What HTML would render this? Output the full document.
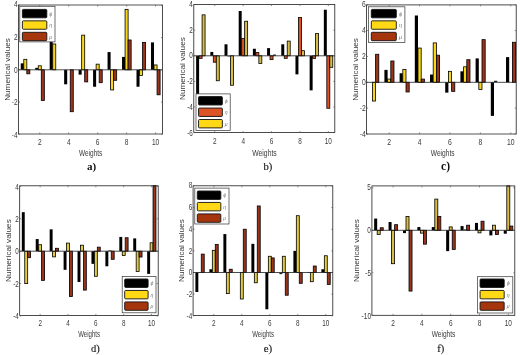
<!DOCTYPE html>
<html><head><meta charset="utf-8"><title>Figure</title>
<style>
html,body{margin:0;padding:0;background:#fff;}
svg{display:block;font-family:"Liberation Sans",sans-serif;}
</style></head><body>
<svg width="520" height="355" viewBox="0 0 520 355">
<defs><filter id="soft" x="0" y="0" width="520" height="355" filterUnits="userSpaceOnUse"><feGaussianBlur stdDeviation="0.45"/></filter></defs>
<rect width="520" height="355" fill="#fff"/>
<g filter="url(#soft)">
<g><rect x="20.74" y="63.35" width="3.04" height="6.45" fill="#000000"/>
<rect x="23.78" y="59.32" width="3.04" height="10.48" fill="#F7D61C" stroke="#000" stroke-width="0.8"/>
<rect x="26.82" y="69.80" width="3.04" height="4.03" fill="#98341A" stroke="#000" stroke-width="0.8"/>
<rect x="35.21" y="67.87" width="3.04" height="1.93" fill="#000000"/>
<rect x="38.25" y="65.77" width="3.04" height="4.03" fill="#F7D61C" stroke="#000" stroke-width="0.8"/>
<rect x="41.29" y="69.80" width="3.04" height="30.63" fill="#98341A" stroke="#000" stroke-width="0.8"/>
<rect x="49.68" y="34.34" width="3.04" height="35.46" fill="#000000"/>
<rect x="52.72" y="44.01" width="3.04" height="25.79" fill="#F7D61C" stroke="#000" stroke-width="0.8"/>
<rect x="64.15" y="69.80" width="3.04" height="14.51" fill="#000000"/>
<rect x="70.23" y="69.80" width="3.04" height="41.91" fill="#98341A" stroke="#000" stroke-width="0.8"/>
<rect x="78.62" y="69.80" width="3.04" height="4.84" fill="#000000"/>
<rect x="81.66" y="35.14" width="3.04" height="34.66" fill="#F7D61C" stroke="#000" stroke-width="0.8"/>
<rect x="84.70" y="69.80" width="3.04" height="12.09" fill="#98341A" stroke="#000" stroke-width="0.8"/>
<rect x="93.09" y="69.80" width="3.04" height="16.93" fill="#000000"/>
<rect x="96.13" y="64.16" width="3.04" height="5.64" fill="#F7D61C" stroke="#000" stroke-width="0.8"/>
<rect x="99.17" y="69.80" width="3.04" height="12.90" fill="#98341A" stroke="#000" stroke-width="0.8"/>
<rect x="107.56" y="52.07" width="3.04" height="17.73" fill="#000000"/>
<rect x="110.60" y="69.80" width="3.04" height="20.15" fill="#F7D61C" stroke="#000" stroke-width="0.8"/>
<rect x="113.64" y="69.80" width="3.04" height="10.48" fill="#98341A" stroke="#000" stroke-width="0.8"/>
<rect x="122.03" y="56.90" width="3.04" height="12.90" fill="#000000"/>
<rect x="125.07" y="9.35" width="3.04" height="60.45" fill="#F7D61C" stroke="#000" stroke-width="0.8"/>
<rect x="128.11" y="39.98" width="3.04" height="29.82" fill="#98341A" stroke="#000" stroke-width="0.8"/>
<rect x="136.50" y="69.80" width="3.04" height="16.93" fill="#000000"/>
<rect x="139.54" y="69.80" width="3.04" height="5.64" fill="#F7D61C" stroke="#000" stroke-width="0.8"/>
<rect x="142.58" y="42.40" width="3.04" height="27.40" fill="#98341A" stroke="#000" stroke-width="0.8"/>
<rect x="150.97" y="42.40" width="3.04" height="27.40" fill="#000000"/>
<rect x="154.01" y="64.96" width="3.04" height="4.84" fill="#F7D61C" stroke="#000" stroke-width="0.8"/>
<rect x="157.05" y="69.80" width="3.04" height="24.99" fill="#98341A" stroke="#000" stroke-width="0.8"/>
<line x1="18.5" y1="69.8" x2="162.5" y2="69.8" stroke="#222" stroke-width="0.8"/>
<rect x="18.5" y="5.0" width="144.00" height="129.00" fill="none" stroke="#151515" stroke-width="0.75"/>
<path d="M39.77 134.0v-1.5M39.77 5.0v1.5" stroke="#444" stroke-width="0.6"/>
<text transform="translate(39.77,144.60) scale(0.8,1)" text-anchor="middle" font-size="8.2" fill="#3a3a3a" >2</text>
<path d="M68.71 134.0v-1.5M68.71 5.0v1.5" stroke="#444" stroke-width="0.6"/>
<text transform="translate(68.71,144.60) scale(0.8,1)" text-anchor="middle" font-size="8.2" fill="#3a3a3a" >4</text>
<path d="M97.65 134.0v-1.5M97.65 5.0v1.5" stroke="#444" stroke-width="0.6"/>
<text transform="translate(97.65,144.60) scale(0.8,1)" text-anchor="middle" font-size="8.2" fill="#3a3a3a" >6</text>
<path d="M126.59 134.0v-1.5M126.59 5.0v1.5" stroke="#444" stroke-width="0.6"/>
<text transform="translate(126.59,144.60) scale(0.8,1)" text-anchor="middle" font-size="8.2" fill="#3a3a3a" >8</text>
<path d="M155.53 134.0v-1.5M155.53 5.0v1.5" stroke="#444" stroke-width="0.6"/>
<text transform="translate(155.53,144.60) scale(0.8,1)" text-anchor="middle" font-size="8.2" fill="#3a3a3a" >10</text>
<path d="M18.5 5.32h1.5M162.5 5.32h-1.5" stroke="#444" stroke-width="0.6"/>
<text transform="translate(17.60,7.37) scale(0.8,1)" text-anchor="end" font-size="8.2" fill="#3a3a3a" >4</text>
<path d="M18.5 37.56h1.5M162.5 37.56h-1.5" stroke="#444" stroke-width="0.6"/>
<text transform="translate(17.60,39.96) scale(0.8,1)" text-anchor="end" font-size="8.2" fill="#3a3a3a" >2</text>
<path d="M18.5 69.80h1.5M162.5 69.80h-1.5" stroke="#444" stroke-width="0.6"/>
<text transform="translate(17.60,72.55) scale(0.8,1)" text-anchor="end" font-size="8.2" fill="#3a3a3a" >0</text>
<path d="M18.5 102.04h1.5M162.5 102.04h-1.5" stroke="#444" stroke-width="0.6"/>
<text transform="translate(17.60,105.14) scale(0.8,1)" text-anchor="end" font-size="8.2" fill="#3a3a3a" >-2</text>
<path d="M18.5 134.28h1.5M162.5 134.28h-1.5" stroke="#444" stroke-width="0.6"/>
<text transform="translate(17.60,137.73) scale(0.8,1)" text-anchor="end" font-size="8.2" fill="#3a3a3a" >-4</text>
<text x="90.70" y="155.60" text-anchor="middle" font-size="8.2" fill="#3a3a3a" textLength="23.3" lengthAdjust="spacingAndGlyphs">Weights</text>
<text transform="translate(9.50,69.50) rotate(-90) scale(1,0.8)" text-anchor="middle" font-size="8.2" fill="#3a3a3a" >Numerical values</text>
<rect x="19.8" y="6.3" width="35.20" height="35.60" fill="#fff" stroke="#333" stroke-width="0.7"/>
<rect x="22.40" y="9.40" width="24.4" height="8.40" rx="0.9" fill="#000000" stroke="#111" stroke-width="0.9"/>
<text transform="translate(50.80,15.60) scale(0.9,1)" text-anchor="middle" font-size="5.9" fill="#777" font-style="italic">ϕ</text>
<rect x="22.40" y="20.85" width="24.4" height="8.40" rx="0.9" fill="#FFD814" stroke="#111" stroke-width="0.9"/>
<text transform="translate(50.80,27.05) scale(0.9,1)" text-anchor="middle" font-size="5.9" fill="#777" font-style="italic">η</text>
<rect x="22.40" y="32.30" width="24.4" height="8.40" rx="0.9" fill="#A5360E" stroke="#111" stroke-width="0.9"/>
<text transform="translate(50.80,38.50) scale(0.9,1)" text-anchor="middle" font-size="5.9" fill="#777" font-style="italic">μ</text>
<text x="91.50" y="169.90" text-anchor="middle" font-size="11.0" font-family="'Liberation Serif',serif" font-weight="bold" fill="#111" >a)</text></g>
<g><rect x="196.13" y="55.80" width="2.98" height="70.40" fill="#000000"/>
<rect x="199.11" y="55.80" width="2.98" height="2.56" fill="#DC5226" stroke="#000" stroke-width="0.8"/>
<rect x="202.09" y="14.84" width="2.98" height="40.96" fill="#D6BC48" stroke="#000" stroke-width="0.8"/>
<rect x="210.32" y="51.96" width="2.98" height="3.84" fill="#000000"/>
<rect x="213.30" y="55.80" width="2.98" height="6.40" fill="#DC5226" stroke="#000" stroke-width="0.8"/>
<rect x="216.28" y="55.80" width="2.98" height="24.96" fill="#D6BC48" stroke="#000" stroke-width="0.8"/>
<rect x="224.51" y="44.28" width="2.98" height="11.52" fill="#000000"/>
<rect x="227.49" y="55.80" width="2.98" height="0.64" fill="#222"/>
<rect x="230.47" y="55.80" width="2.98" height="29.44" fill="#D6BC48" stroke="#000" stroke-width="0.8"/>
<rect x="238.70" y="11.00" width="2.98" height="44.80" fill="#000000"/>
<rect x="241.68" y="38.52" width="2.98" height="17.28" fill="#DC5226" stroke="#000" stroke-width="0.8"/>
<rect x="244.66" y="21.24" width="2.98" height="34.56" fill="#D6BC48" stroke="#000" stroke-width="0.8"/>
<rect x="252.89" y="48.76" width="2.98" height="7.04" fill="#000000"/>
<rect x="255.87" y="52.60" width="2.98" height="3.20" fill="#DC5226" stroke="#000" stroke-width="0.8"/>
<rect x="258.85" y="55.80" width="2.98" height="7.68" fill="#D6BC48" stroke="#000" stroke-width="0.8"/>
<rect x="267.08" y="48.12" width="2.98" height="7.68" fill="#000000"/>
<rect x="270.06" y="55.80" width="2.98" height="3.84" fill="#DC5226" stroke="#000" stroke-width="0.8"/>
<rect x="273.04" y="54.52" width="2.98" height="1.28" fill="#222"/>
<rect x="281.27" y="44.28" width="2.98" height="11.52" fill="#000000"/>
<rect x="284.25" y="55.80" width="2.98" height="2.56" fill="#DC5226" stroke="#000" stroke-width="0.8"/>
<rect x="287.23" y="41.08" width="2.98" height="14.72" fill="#D6BC48" stroke="#000" stroke-width="0.8"/>
<rect x="295.46" y="55.80" width="2.98" height="18.56" fill="#000000"/>
<rect x="298.44" y="17.40" width="2.98" height="38.40" fill="#DC5226" stroke="#000" stroke-width="0.8"/>
<rect x="301.42" y="50.68" width="2.98" height="5.12" fill="#D6BC48" stroke="#000" stroke-width="0.8"/>
<rect x="309.65" y="55.80" width="2.98" height="34.56" fill="#000000"/>
<rect x="312.63" y="55.80" width="2.98" height="2.56" fill="#DC5226" stroke="#000" stroke-width="0.8"/>
<rect x="315.61" y="33.40" width="2.98" height="22.40" fill="#D6BC48" stroke="#000" stroke-width="0.8"/>
<rect x="323.84" y="9.72" width="2.98" height="46.08" fill="#000000"/>
<rect x="326.82" y="55.80" width="2.98" height="52.48" fill="#DC5226" stroke="#000" stroke-width="0.8"/>
<rect x="329.80" y="55.80" width="2.98" height="11.52" fill="#D6BC48" stroke="#000" stroke-width="0.8"/>
<line x1="193.8" y1="55.8" x2="334.8" y2="55.8" stroke="#222" stroke-width="0.8"/>
<rect x="193.8" y="4.6" width="141.00" height="128.00" fill="none" stroke="#151515" stroke-width="0.75"/>
<path d="M214.79 132.6v-1.5M214.79 4.6v1.5" stroke="#444" stroke-width="0.6"/>
<text transform="translate(214.79,143.50) scale(0.7833333333333333,1)" text-anchor="middle" font-size="8.2" fill="#3a3a3a" >2</text>
<path d="M243.17 132.6v-1.5M243.17 4.6v1.5" stroke="#444" stroke-width="0.6"/>
<text transform="translate(243.17,143.50) scale(0.7833333333333333,1)" text-anchor="middle" font-size="8.2" fill="#3a3a3a" >4</text>
<path d="M271.55 132.6v-1.5M271.55 4.6v1.5" stroke="#444" stroke-width="0.6"/>
<text transform="translate(271.55,143.50) scale(0.7833333333333333,1)" text-anchor="middle" font-size="8.2" fill="#3a3a3a" >6</text>
<path d="M299.93 132.6v-1.5M299.93 4.6v1.5" stroke="#444" stroke-width="0.6"/>
<text transform="translate(299.93,143.50) scale(0.7833333333333333,1)" text-anchor="middle" font-size="8.2" fill="#3a3a3a" >8</text>
<path d="M328.31 132.6v-1.5M328.31 4.6v1.5" stroke="#444" stroke-width="0.6"/>
<text transform="translate(328.31,143.50) scale(0.7833333333333333,1)" text-anchor="middle" font-size="8.2" fill="#3a3a3a" >10</text>
<path d="M193.8 4.60h1.5M334.8 4.60h-1.5" stroke="#444" stroke-width="0.6"/>
<text transform="translate(192.90,6.65) scale(0.7833333333333333,1)" text-anchor="end" font-size="8.2" fill="#3a3a3a" >4</text>
<path d="M193.8 30.20h1.5M334.8 30.20h-1.5" stroke="#444" stroke-width="0.6"/>
<text transform="translate(192.90,32.53) scale(0.7833333333333333,1)" text-anchor="end" font-size="8.2" fill="#3a3a3a" >2</text>
<path d="M193.8 55.80h1.5M334.8 55.80h-1.5" stroke="#444" stroke-width="0.6"/>
<text transform="translate(192.90,58.41) scale(0.7833333333333333,1)" text-anchor="end" font-size="8.2" fill="#3a3a3a" >0</text>
<path d="M193.8 81.40h1.5M334.8 81.40h-1.5" stroke="#444" stroke-width="0.6"/>
<text transform="translate(192.90,84.29) scale(0.7833333333333333,1)" text-anchor="end" font-size="8.2" fill="#3a3a3a" >-2</text>
<path d="M193.8 107.00h1.5M334.8 107.00h-1.5" stroke="#444" stroke-width="0.6"/>
<text transform="translate(192.90,110.17) scale(0.7833333333333333,1)" text-anchor="end" font-size="8.2" fill="#3a3a3a" >-4</text>
<path d="M193.8 132.60h1.5M334.8 132.60h-1.5" stroke="#444" stroke-width="0.6"/>
<text transform="translate(192.90,136.05) scale(0.7833333333333333,1)" text-anchor="end" font-size="8.2" fill="#3a3a3a" >-6</text>
<text x="264.50" y="155.60" text-anchor="middle" font-size="8.2" fill="#3a3a3a" textLength="24.4" lengthAdjust="spacingAndGlyphs">Weights</text>
<text transform="translate(184.99,68.60) rotate(-90) scale(1,0.7833333333333333)" text-anchor="middle" font-size="8.2" fill="#3a3a3a" >Numerical values</text>
<rect x="196.0" y="93.9" width="34.20" height="36.70" fill="#fff" stroke="#333" stroke-width="0.7"/>
<rect x="198.55" y="96.60" width="23.8" height="8.40" rx="0.9" fill="#000000" stroke="#111" stroke-width="0.9"/>
<text transform="translate(226.26,102.80) scale(0.88125,1)" text-anchor="middle" font-size="5.9" fill="#777" font-style="italic">ϕ</text>
<rect x="198.55" y="108.05" width="23.8" height="8.40" rx="0.9" fill="#DC5226" stroke="#111" stroke-width="0.9"/>
<text transform="translate(226.26,114.25) scale(0.88125,1)" text-anchor="middle" font-size="5.9" fill="#777" font-style="italic">η</text>
<rect x="198.55" y="119.50" width="23.8" height="8.40" rx="0.9" fill="#FFD814" stroke="#111" stroke-width="0.9"/>
<text transform="translate(226.26,125.70) scale(0.88125,1)" text-anchor="middle" font-size="5.9" fill="#777" font-style="italic">μ</text>
<text x="267.90" y="170.00" text-anchor="middle" font-size="10.5" font-family="'Liberation Serif',serif" font-weight="normal" fill="#111" stroke="#111" stroke-width="0.12">b)</text></g>
<g><rect x="372.40" y="82.30" width="3.19" height="18.73" fill="#F7D61C" stroke="#000" stroke-width="0.8"/>
<rect x="375.60" y="54.26" width="3.19" height="28.04" fill="#98341A" stroke="#000" stroke-width="0.8"/>
<rect x="384.41" y="69.90" width="3.19" height="12.40" fill="#000000"/>
<rect x="387.60" y="79.07" width="3.19" height="3.23" fill="#F7D61C" stroke="#000" stroke-width="0.8"/>
<rect x="390.80" y="60.98" width="3.19" height="21.32" fill="#98341A" stroke="#000" stroke-width="0.8"/>
<rect x="399.61" y="73.26" width="3.19" height="9.04" fill="#000000"/>
<rect x="402.80" y="69.38" width="3.19" height="12.92" fill="#F7D61C" stroke="#000" stroke-width="0.8"/>
<rect x="406.00" y="82.30" width="3.19" height="9.69" fill="#98341A" stroke="#000" stroke-width="0.8"/>
<rect x="414.81" y="15.50" width="3.19" height="66.80" fill="#000000"/>
<rect x="418.00" y="48.06" width="3.19" height="34.24" fill="#F7D61C" stroke="#000" stroke-width="0.8"/>
<rect x="421.20" y="79.07" width="3.19" height="3.23" fill="#98341A" stroke="#000" stroke-width="0.8"/>
<rect x="430.01" y="74.55" width="3.19" height="7.75" fill="#000000"/>
<rect x="433.20" y="42.89" width="3.19" height="39.41" fill="#F7D61C" stroke="#000" stroke-width="0.8"/>
<rect x="436.40" y="55.17" width="3.19" height="27.13" fill="#98341A" stroke="#000" stroke-width="0.8"/>
<rect x="445.21" y="82.30" width="3.19" height="10.34" fill="#000000"/>
<rect x="448.40" y="71.32" width="3.19" height="10.98" fill="#F7D61C" stroke="#000" stroke-width="0.8"/>
<rect x="451.60" y="82.30" width="3.19" height="9.04" fill="#98341A" stroke="#000" stroke-width="0.8"/>
<rect x="460.41" y="71.32" width="3.19" height="10.98" fill="#000000"/>
<rect x="463.60" y="66.80" width="3.19" height="15.50" fill="#F7D61C" stroke="#000" stroke-width="0.8"/>
<rect x="466.80" y="59.69" width="3.19" height="22.61" fill="#98341A" stroke="#000" stroke-width="0.8"/>
<rect x="475.61" y="58.40" width="3.19" height="23.90" fill="#000000"/>
<rect x="478.80" y="82.30" width="3.19" height="7.11" fill="#F7D61C" stroke="#000" stroke-width="0.8"/>
<rect x="482.00" y="39.66" width="3.19" height="42.64" fill="#98341A" stroke="#000" stroke-width="0.8"/>
<rect x="490.81" y="82.30" width="3.19" height="33.59" fill="#000000"/>
<rect x="494.00" y="80.75" width="3.19" height="1.55" fill="#222"/>
<rect x="506.01" y="57.11" width="3.19" height="25.19" fill="#000000"/>
<rect x="512.40" y="42.25" width="3.19" height="40.05" fill="#98341A" stroke="#000" stroke-width="0.8"/>
<line x1="366.6" y1="82.3" x2="516.2" y2="82.3" stroke="#222" stroke-width="0.8"/>
<rect x="366.6" y="4.9" width="149.60" height="129.10" fill="none" stroke="#151515" stroke-width="0.75"/>
<path d="M389.20 134.0v-1.5M389.20 4.9v1.5" stroke="#444" stroke-width="0.6"/>
<text transform="translate(389.20,144.60) scale(0.8311111111111112,1)" text-anchor="middle" font-size="8.2" fill="#3a3a3a" >2</text>
<path d="M419.60 134.0v-1.5M419.60 4.9v1.5" stroke="#444" stroke-width="0.6"/>
<text transform="translate(419.60,144.60) scale(0.8311111111111112,1)" text-anchor="middle" font-size="8.2" fill="#3a3a3a" >4</text>
<path d="M450.00 134.0v-1.5M450.00 4.9v1.5" stroke="#444" stroke-width="0.6"/>
<text transform="translate(450.00,144.60) scale(0.8311111111111112,1)" text-anchor="middle" font-size="8.2" fill="#3a3a3a" >6</text>
<path d="M480.40 134.0v-1.5M480.40 4.9v1.5" stroke="#444" stroke-width="0.6"/>
<text transform="translate(480.40,144.60) scale(0.8311111111111112,1)" text-anchor="middle" font-size="8.2" fill="#3a3a3a" >8</text>
<path d="M510.80 134.0v-1.5M510.80 4.9v1.5" stroke="#444" stroke-width="0.6"/>
<text transform="translate(510.80,144.60) scale(0.8311111111111112,1)" text-anchor="middle" font-size="8.2" fill="#3a3a3a" >10</text>
<path d="M366.6 4.78h1.5M516.2 4.78h-1.5" stroke="#444" stroke-width="0.6"/>
<text transform="translate(365.70,6.83) scale(0.8311111111111112,1)" text-anchor="end" font-size="8.2" fill="#3a3a3a" >6</text>
<path d="M366.6 30.62h1.5M516.2 30.62h-1.5" stroke="#444" stroke-width="0.6"/>
<text transform="translate(365.70,32.95) scale(0.8311111111111112,1)" text-anchor="end" font-size="8.2" fill="#3a3a3a" >4</text>
<path d="M366.6 56.46h1.5M516.2 56.46h-1.5" stroke="#444" stroke-width="0.6"/>
<text transform="translate(365.70,59.07) scale(0.8311111111111112,1)" text-anchor="end" font-size="8.2" fill="#3a3a3a" >2</text>
<path d="M366.6 82.30h1.5M516.2 82.30h-1.5" stroke="#444" stroke-width="0.6"/>
<text transform="translate(365.70,85.19) scale(0.8311111111111112,1)" text-anchor="end" font-size="8.2" fill="#3a3a3a" >0</text>
<path d="M366.6 108.14h1.5M516.2 108.14h-1.5" stroke="#444" stroke-width="0.6"/>
<text transform="translate(365.70,111.31) scale(0.8311111111111112,1)" text-anchor="end" font-size="8.2" fill="#3a3a3a" >-2</text>
<path d="M366.6 133.98h1.5M516.2 133.98h-1.5" stroke="#444" stroke-width="0.6"/>
<text transform="translate(365.70,137.43) scale(0.8311111111111112,1)" text-anchor="end" font-size="8.2" fill="#3a3a3a" >-4</text>
<text x="442.70" y="155.60" text-anchor="middle" font-size="8.2" fill="#3a3a3a" textLength="23.8" lengthAdjust="spacingAndGlyphs">Weights</text>
<text transform="translate(357.87,69.45) rotate(-90) scale(1,0.8311111111111112)" text-anchor="middle" font-size="8.2" fill="#3a3a3a" >Numerical values</text>
<rect x="368.6" y="6.8" width="36.30" height="35.70" fill="#fff" stroke="#333" stroke-width="0.7"/>
<rect x="371.30" y="9.40" width="25.0" height="8.40" rx="0.9" fill="#000000" stroke="#111" stroke-width="0.9"/>
<text transform="translate(400.46,15.60) scale(0.935,1)" text-anchor="middle" font-size="5.9" fill="#777" font-style="italic">ϕ</text>
<rect x="371.30" y="20.85" width="25.0" height="8.40" rx="0.9" fill="#FFD814" stroke="#111" stroke-width="0.9"/>
<text transform="translate(400.46,27.05) scale(0.935,1)" text-anchor="middle" font-size="5.9" fill="#777" font-style="italic">η</text>
<rect x="371.30" y="32.30" width="25.0" height="8.40" rx="0.9" fill="#A5360E" stroke="#111" stroke-width="0.9"/>
<text transform="translate(400.46,38.50) scale(0.935,1)" text-anchor="middle" font-size="5.9" fill="#777" font-style="italic">μ</text>
<text x="445.50" y="170.00" text-anchor="middle" font-size="11.5" font-family="'Liberation Serif',serif" font-weight="bold" fill="#111" >c)</text></g>
<g><rect x="21.81" y="212.16" width="2.93" height="39.04" fill="#000000"/>
<rect x="24.74" y="251.20" width="2.93" height="32.40" fill="#E4CB40" stroke="#000" stroke-width="0.8"/>
<rect x="27.66" y="251.20" width="2.93" height="6.48" fill="#98341A" stroke="#000" stroke-width="0.8"/>
<rect x="35.74" y="239.05" width="2.93" height="12.15" fill="#000000"/>
<rect x="38.67" y="244.72" width="2.93" height="6.48" fill="#E4CB40" stroke="#000" stroke-width="0.8"/>
<rect x="41.59" y="251.20" width="2.93" height="29.16" fill="#98341A" stroke="#000" stroke-width="0.8"/>
<rect x="49.67" y="229.33" width="2.93" height="21.87" fill="#000000"/>
<rect x="52.60" y="251.20" width="2.93" height="5.67" fill="#E4CB40" stroke="#000" stroke-width="0.8"/>
<rect x="55.52" y="248.28" width="2.93" height="2.92" fill="#98341A" stroke="#000" stroke-width="0.8"/>
<rect x="63.60" y="251.20" width="2.93" height="18.63" fill="#000000"/>
<rect x="66.53" y="243.10" width="2.93" height="8.10" fill="#E4CB40" stroke="#000" stroke-width="0.8"/>
<rect x="69.45" y="251.20" width="2.93" height="45.36" fill="#98341A" stroke="#000" stroke-width="0.8"/>
<rect x="77.53" y="251.20" width="2.93" height="30.78" fill="#000000"/>
<rect x="80.46" y="245.21" width="2.93" height="5.99" fill="#E4CB40" stroke="#000" stroke-width="0.8"/>
<rect x="83.38" y="251.20" width="2.93" height="38.88" fill="#98341A" stroke="#000" stroke-width="0.8"/>
<rect x="91.46" y="251.20" width="2.93" height="12.64" fill="#000000"/>
<rect x="94.39" y="251.20" width="2.93" height="25.11" fill="#E4CB40" stroke="#000" stroke-width="0.8"/>
<rect x="97.31" y="247.15" width="2.93" height="4.05" fill="#98341A" stroke="#000" stroke-width="0.8"/>
<rect x="105.39" y="251.20" width="2.93" height="15.07" fill="#000000"/>
<rect x="108.32" y="250.39" width="2.93" height="0.81" fill="#222"/>
<rect x="111.24" y="251.20" width="2.93" height="8.10" fill="#98341A" stroke="#000" stroke-width="0.8"/>
<rect x="119.32" y="236.94" width="2.93" height="14.26" fill="#000000"/>
<rect x="122.25" y="251.20" width="2.93" height="4.37" fill="#E4CB40" stroke="#000" stroke-width="0.8"/>
<rect x="125.17" y="237.75" width="2.93" height="13.45" fill="#98341A" stroke="#000" stroke-width="0.8"/>
<rect x="133.25" y="238.40" width="2.93" height="12.80" fill="#000000"/>
<rect x="136.18" y="251.20" width="2.93" height="20.25" fill="#E4CB40" stroke="#000" stroke-width="0.8"/>
<rect x="139.10" y="251.20" width="2.93" height="5.83" fill="#98341A" stroke="#000" stroke-width="0.8"/>
<rect x="147.18" y="251.20" width="2.93" height="22.68" fill="#000000"/>
<rect x="150.11" y="242.78" width="2.93" height="8.42" fill="#E4CB40" stroke="#000" stroke-width="0.8"/>
<rect x="153.03" y="185.80" width="2.93" height="65.40" fill="#98341A" stroke="#000" stroke-width="0.8"/>
<line x1="19.7" y1="251.2" x2="158.2" y2="251.2" stroke="#222" stroke-width="0.8"/>
<rect x="19.7" y="185.8" width="138.50" height="129.60" fill="none" stroke="#151515" stroke-width="0.75"/>
<path d="M40.13 315.4v-1.5M40.13 185.8v1.5" stroke="#444" stroke-width="0.6"/>
<text transform="translate(40.13,326.00) scale(0.7694444444444445,1)" text-anchor="middle" font-size="8.2" fill="#3a3a3a" >2</text>
<path d="M67.99 315.4v-1.5M67.99 185.8v1.5" stroke="#444" stroke-width="0.6"/>
<text transform="translate(67.99,326.00) scale(0.7694444444444445,1)" text-anchor="middle" font-size="8.2" fill="#3a3a3a" >4</text>
<path d="M95.85 315.4v-1.5M95.85 185.8v1.5" stroke="#444" stroke-width="0.6"/>
<text transform="translate(95.85,326.00) scale(0.7694444444444445,1)" text-anchor="middle" font-size="8.2" fill="#3a3a3a" >6</text>
<path d="M123.71 315.4v-1.5M123.71 185.8v1.5" stroke="#444" stroke-width="0.6"/>
<text transform="translate(123.71,326.00) scale(0.7694444444444445,1)" text-anchor="middle" font-size="8.2" fill="#3a3a3a" >8</text>
<path d="M151.57 315.4v-1.5M151.57 185.8v1.5" stroke="#444" stroke-width="0.6"/>
<text transform="translate(151.57,326.00) scale(0.7694444444444445,1)" text-anchor="middle" font-size="8.2" fill="#3a3a3a" >10</text>
<path d="M19.7 186.40h1.5M158.2 186.40h-1.5" stroke="#444" stroke-width="0.6"/>
<text transform="translate(18.80,189.65) scale(0.7694444444444445,1)" text-anchor="end" font-size="8.2" fill="#3a3a3a" >4</text>
<path d="M19.7 218.80h1.5M158.2 218.80h-1.5" stroke="#444" stroke-width="0.6"/>
<text transform="translate(18.80,222.05) scale(0.7694444444444445,1)" text-anchor="end" font-size="8.2" fill="#3a3a3a" >2</text>
<path d="M19.7 251.20h1.5M158.2 251.20h-1.5" stroke="#444" stroke-width="0.6"/>
<text transform="translate(18.80,254.45) scale(0.7694444444444445,1)" text-anchor="end" font-size="8.2" fill="#3a3a3a" >0</text>
<path d="M19.7 283.60h1.5M158.2 283.60h-1.5" stroke="#444" stroke-width="0.6"/>
<text transform="translate(18.80,286.85) scale(0.7694444444444445,1)" text-anchor="end" font-size="8.2" fill="#3a3a3a" >-2</text>
<path d="M19.7 316.00h1.5M158.2 316.00h-1.5" stroke="#444" stroke-width="0.6"/>
<text transform="translate(18.80,319.25) scale(0.7694444444444445,1)" text-anchor="end" font-size="8.2" fill="#3a3a3a" >-4</text>
<text x="89.15" y="337.20" text-anchor="middle" font-size="8.2" fill="#3a3a3a" textLength="21.9" lengthAdjust="spacingAndGlyphs">Weights</text>
<text transform="translate(11.04,250.60) rotate(-90) scale(1,0.7694444444444445)" text-anchor="middle" font-size="8.2" fill="#3a3a3a" >Numerical values</text>
<rect x="122.2" y="276.5" width="33.80" height="36.30" fill="#fff" stroke="#333" stroke-width="0.7"/>
<rect x="124.70" y="279.00" width="23.4" height="8.40" rx="0.9" fill="#000000" stroke="#111" stroke-width="0.9"/>
<text transform="translate(151.95,285.20) scale(0.8656250000000001,1)" text-anchor="middle" font-size="5.9" fill="#777" font-style="italic">ϕ</text>
<rect x="124.70" y="290.45" width="23.4" height="8.40" rx="0.9" fill="#FFD814" stroke="#111" stroke-width="0.9"/>
<text transform="translate(151.95,296.65) scale(0.8656250000000001,1)" text-anchor="middle" font-size="5.9" fill="#777" font-style="italic">η</text>
<rect x="124.70" y="301.90" width="23.4" height="8.40" rx="0.9" fill="#A5360E" stroke="#111" stroke-width="0.9"/>
<text transform="translate(151.95,308.10) scale(0.8656250000000001,1)" text-anchor="middle" font-size="5.9" fill="#777" font-style="italic">μ</text>
<text x="95.40" y="351.60" text-anchor="middle" font-size="10.5" font-family="'Liberation Serif',serif" font-weight="normal" fill="#111" stroke="#111" stroke-width="0.12">d)</text></g>
<g><rect x="195.39" y="272.50" width="2.94" height="19.48" fill="#000000"/>
<rect x="198.33" y="272.50" width="2.94" height="0.54" fill="#222"/>
<rect x="201.27" y="254.11" width="2.94" height="18.39" fill="#98341A" stroke="#000" stroke-width="0.8"/>
<rect x="209.39" y="269.25" width="2.94" height="3.25" fill="#000000"/>
<rect x="212.33" y="250.32" width="2.94" height="22.18" fill="#E4CB40" stroke="#000" stroke-width="0.8"/>
<rect x="215.27" y="244.37" width="2.94" height="28.13" fill="#98341A" stroke="#000" stroke-width="0.8"/>
<rect x="223.39" y="234.09" width="2.94" height="38.41" fill="#000000"/>
<rect x="226.33" y="272.50" width="2.94" height="21.10" fill="#E4CB40" stroke="#000" stroke-width="0.8"/>
<rect x="229.27" y="269.25" width="2.94" height="3.25" fill="#98341A" stroke="#000" stroke-width="0.8"/>
<rect x="240.33" y="272.50" width="2.94" height="26.51" fill="#E4CB40" stroke="#000" stroke-width="0.8"/>
<rect x="243.27" y="229.22" width="2.94" height="43.28" fill="#98341A" stroke="#000" stroke-width="0.8"/>
<rect x="251.39" y="243.83" width="2.94" height="28.67" fill="#000000"/>
<rect x="254.33" y="272.50" width="2.94" height="10.28" fill="#E4CB40" stroke="#000" stroke-width="0.8"/>
<rect x="257.27" y="205.96" width="2.94" height="66.54" fill="#98341A" stroke="#000" stroke-width="0.8"/>
<rect x="265.39" y="272.50" width="2.94" height="36.79" fill="#000000"/>
<rect x="268.33" y="256.27" width="2.94" height="16.23" fill="#E4CB40" stroke="#000" stroke-width="0.8"/>
<rect x="271.27" y="257.89" width="2.94" height="14.61" fill="#98341A" stroke="#000" stroke-width="0.8"/>
<rect x="279.39" y="272.50" width="2.94" height="1.62" fill="#222"/>
<rect x="282.33" y="256.27" width="2.94" height="16.23" fill="#E4CB40" stroke="#000" stroke-width="0.8"/>
<rect x="285.27" y="272.50" width="2.94" height="22.72" fill="#98341A" stroke="#000" stroke-width="0.8"/>
<rect x="293.39" y="250.86" width="2.94" height="21.64" fill="#000000"/>
<rect x="296.33" y="215.69" width="2.94" height="56.81" fill="#E4CB40" stroke="#000" stroke-width="0.8"/>
<rect x="299.27" y="272.50" width="2.94" height="10.82" fill="#98341A" stroke="#000" stroke-width="0.8"/>
<rect x="307.39" y="271.96" width="2.94" height="0.54" fill="#222"/>
<rect x="310.33" y="272.50" width="2.94" height="9.20" fill="#E4CB40" stroke="#000" stroke-width="0.8"/>
<rect x="313.27" y="266.01" width="2.94" height="6.49" fill="#98341A" stroke="#000" stroke-width="0.8"/>
<rect x="321.39" y="269.25" width="2.94" height="3.25" fill="#000000"/>
<rect x="324.33" y="255.73" width="2.94" height="16.77" fill="#E4CB40" stroke="#000" stroke-width="0.8"/>
<rect x="327.27" y="272.50" width="2.94" height="11.90" fill="#98341A" stroke="#000" stroke-width="0.8"/>
<line x1="193.1" y1="272.5" x2="332.8" y2="272.5" stroke="#222" stroke-width="0.8"/>
<rect x="193.1" y="185.8" width="139.70" height="129.60" fill="none" stroke="#151515" stroke-width="0.75"/>
<path d="M213.80 315.4v-1.5M213.80 185.8v1.5" stroke="#444" stroke-width="0.6"/>
<text transform="translate(213.80,326.00) scale(0.7761111111111112,1)" text-anchor="middle" font-size="8.2" fill="#3a3a3a" >2</text>
<path d="M241.80 315.4v-1.5M241.80 185.8v1.5" stroke="#444" stroke-width="0.6"/>
<text transform="translate(241.80,326.00) scale(0.7761111111111112,1)" text-anchor="middle" font-size="8.2" fill="#3a3a3a" >4</text>
<path d="M269.80 315.4v-1.5M269.80 185.8v1.5" stroke="#444" stroke-width="0.6"/>
<text transform="translate(269.80,326.00) scale(0.7761111111111112,1)" text-anchor="middle" font-size="8.2" fill="#3a3a3a" >6</text>
<path d="M297.80 315.4v-1.5M297.80 185.8v1.5" stroke="#444" stroke-width="0.6"/>
<text transform="translate(297.80,326.00) scale(0.7761111111111112,1)" text-anchor="middle" font-size="8.2" fill="#3a3a3a" >8</text>
<path d="M325.80 315.4v-1.5M325.80 185.8v1.5" stroke="#444" stroke-width="0.6"/>
<text transform="translate(325.80,326.00) scale(0.7761111111111112,1)" text-anchor="middle" font-size="8.2" fill="#3a3a3a" >10</text>
<path d="M193.1 185.94h1.5M332.8 185.94h-1.5" stroke="#444" stroke-width="0.6"/>
<text transform="translate(192.20,187.99) scale(0.7761111111111112,1)" text-anchor="end" font-size="8.2" fill="#3a3a3a" >8</text>
<path d="M193.1 207.58h1.5M332.8 207.58h-1.5" stroke="#444" stroke-width="0.6"/>
<text transform="translate(192.20,209.87) scale(0.7761111111111112,1)" text-anchor="end" font-size="8.2" fill="#3a3a3a" >6</text>
<path d="M193.1 229.22h1.5M332.8 229.22h-1.5" stroke="#444" stroke-width="0.6"/>
<text transform="translate(192.20,231.74) scale(0.7761111111111112,1)" text-anchor="end" font-size="8.2" fill="#3a3a3a" >4</text>
<path d="M193.1 250.86h1.5M332.8 250.86h-1.5" stroke="#444" stroke-width="0.6"/>
<text transform="translate(192.20,253.61) scale(0.7761111111111112,1)" text-anchor="end" font-size="8.2" fill="#3a3a3a" >2</text>
<path d="M193.1 272.50h1.5M332.8 272.50h-1.5" stroke="#444" stroke-width="0.6"/>
<text transform="translate(192.20,275.49) scale(0.7761111111111112,1)" text-anchor="end" font-size="8.2" fill="#3a3a3a" >0</text>
<path d="M193.1 294.14h1.5M332.8 294.14h-1.5" stroke="#444" stroke-width="0.6"/>
<text transform="translate(192.20,297.36) scale(0.7761111111111112,1)" text-anchor="end" font-size="8.2" fill="#3a3a3a" >-2</text>
<path d="M193.1 315.78h1.5M332.8 315.78h-1.5" stroke="#444" stroke-width="0.6"/>
<text transform="translate(192.20,319.23) scale(0.7761111111111112,1)" text-anchor="end" font-size="8.2" fill="#3a3a3a" >-4</text>
<text x="263.15" y="337.20" text-anchor="middle" font-size="8.2" fill="#3a3a3a" textLength="21.9" lengthAdjust="spacingAndGlyphs">Weights</text>
<text transform="translate(184.37,250.60) rotate(-90) scale(1,0.7761111111111112)" text-anchor="middle" font-size="8.2" fill="#3a3a3a" >Numerical values</text>
<rect x="194.8" y="188.1" width="34.20" height="35.90" fill="#fff" stroke="#333" stroke-width="0.7"/>
<rect x="197.32" y="191.00" width="23.5" height="8.40" rx="0.9" fill="#000000" stroke="#111" stroke-width="0.9"/>
<text transform="translate(224.70,197.20) scale(0.8731250000000002,1)" text-anchor="middle" font-size="5.9" fill="#777" font-style="italic">ϕ</text>
<rect x="197.32" y="202.45" width="23.5" height="8.40" rx="0.9" fill="#FFD814" stroke="#111" stroke-width="0.9"/>
<text transform="translate(224.70,208.65) scale(0.8731250000000002,1)" text-anchor="middle" font-size="5.9" fill="#777" font-style="italic">η</text>
<rect x="197.32" y="213.90" width="23.5" height="8.40" rx="0.9" fill="#A5360E" stroke="#111" stroke-width="0.9"/>
<text transform="translate(224.70,220.10) scale(0.8731250000000002,1)" text-anchor="middle" font-size="5.9" fill="#777" font-style="italic">μ</text>
<text x="268.00" y="352.00" text-anchor="middle" font-size="11.0" font-family="'Liberation Serif',serif" font-weight="normal" fill="#111" stroke="#111" stroke-width="0.12">e)</text></g>
<g><rect x="374.16" y="218.57" width="3.02" height="11.73" fill="#000000"/>
<rect x="377.19" y="230.30" width="3.02" height="4.25" fill="#D6BC48" stroke="#000" stroke-width="0.8"/>
<rect x="380.21" y="227.75" width="3.02" height="2.55" fill="#98341A" stroke="#000" stroke-width="0.8"/>
<rect x="388.56" y="222.06" width="3.02" height="8.25" fill="#000000"/>
<rect x="391.59" y="230.30" width="3.02" height="33.41" fill="#D6BC48" stroke="#000" stroke-width="0.8"/>
<rect x="394.61" y="224.69" width="3.02" height="5.61" fill="#98341A" stroke="#000" stroke-width="0.8"/>
<rect x="402.96" y="230.30" width="3.02" height="2.81" fill="#000000"/>
<rect x="405.99" y="216.45" width="3.02" height="13.85" fill="#D6BC48" stroke="#000" stroke-width="0.8"/>
<rect x="409.01" y="230.30" width="3.02" height="60.78" fill="#98341A" stroke="#000" stroke-width="0.8"/>
<rect x="417.36" y="227.07" width="3.02" height="3.23" fill="#000000"/>
<rect x="420.39" y="230.30" width="3.02" height="2.81" fill="#D6BC48" stroke="#000" stroke-width="0.8"/>
<rect x="423.41" y="230.30" width="3.02" height="13.85" fill="#98341A" stroke="#000" stroke-width="0.8"/>
<rect x="431.76" y="227.07" width="3.02" height="3.23" fill="#000000"/>
<rect x="434.79" y="199.11" width="3.02" height="31.19" fill="#D6BC48" stroke="#000" stroke-width="0.8"/>
<rect x="437.81" y="216.45" width="3.02" height="13.85" fill="#98341A" stroke="#000" stroke-width="0.8"/>
<rect x="446.16" y="230.30" width="3.02" height="20.82" fill="#000000"/>
<rect x="449.19" y="226.90" width="3.02" height="3.40" fill="#D6BC48" stroke="#000" stroke-width="0.8"/>
<rect x="452.21" y="230.30" width="3.02" height="19.12" fill="#98341A" stroke="#000" stroke-width="0.8"/>
<rect x="460.56" y="226.05" width="3.02" height="4.25" fill="#000000"/>
<rect x="463.59" y="229.45" width="3.02" height="0.85" fill="#222"/>
<rect x="466.61" y="225.20" width="3.02" height="5.10" fill="#98341A" stroke="#000" stroke-width="0.8"/>
<rect x="474.96" y="222.91" width="3.02" height="7.40" fill="#000000"/>
<rect x="477.99" y="230.30" width="3.02" height="2.55" fill="#D6BC48" stroke="#000" stroke-width="0.8"/>
<rect x="481.01" y="221.21" width="3.02" height="9.09" fill="#98341A" stroke="#000" stroke-width="0.8"/>
<rect x="489.36" y="230.30" width="3.02" height="5.10" fill="#000000"/>
<rect x="492.39" y="225.20" width="3.02" height="5.10" fill="#D6BC48" stroke="#000" stroke-width="0.8"/>
<rect x="495.41" y="230.30" width="3.02" height="4.25" fill="#98341A" stroke="#000" stroke-width="0.8"/>
<rect x="503.76" y="230.30" width="3.02" height="3.40" fill="#000000"/>
<rect x="506.79" y="185.90" width="3.02" height="44.40" fill="#D6BC48" stroke="#000" stroke-width="0.8"/>
<rect x="509.81" y="226.05" width="3.02" height="4.25" fill="#98341A" stroke="#000" stroke-width="0.8"/>
<line x1="371.9" y1="230.3" x2="514.8" y2="230.3" stroke="#222" stroke-width="0.8"/>
<rect x="371.9" y="185.9" width="142.90" height="129.40" fill="none" stroke="#151515" stroke-width="0.75"/>
<path d="M393.10 315.3v-1.5M393.10 185.9v1.5" stroke="#444" stroke-width="0.6"/>
<text transform="translate(393.10,325.90) scale(0.7938888888888888,1)" text-anchor="middle" font-size="8.2" fill="#3a3a3a" >2</text>
<path d="M421.90 315.3v-1.5M421.90 185.9v1.5" stroke="#444" stroke-width="0.6"/>
<text transform="translate(421.90,325.90) scale(0.7938888888888888,1)" text-anchor="middle" font-size="8.2" fill="#3a3a3a" >4</text>
<path d="M450.70 315.3v-1.5M450.70 185.9v1.5" stroke="#444" stroke-width="0.6"/>
<text transform="translate(450.70,325.90) scale(0.7938888888888888,1)" text-anchor="middle" font-size="8.2" fill="#3a3a3a" >6</text>
<path d="M479.50 315.3v-1.5M479.50 185.9v1.5" stroke="#444" stroke-width="0.6"/>
<text transform="translate(479.50,325.90) scale(0.7938888888888888,1)" text-anchor="middle" font-size="8.2" fill="#3a3a3a" >8</text>
<path d="M508.30 315.3v-1.5M508.30 185.9v1.5" stroke="#444" stroke-width="0.6"/>
<text transform="translate(508.30,325.90) scale(0.7938888888888888,1)" text-anchor="middle" font-size="8.2" fill="#3a3a3a" >10</text>
<path d="M371.9 187.80h1.5M514.8 187.80h-1.5" stroke="#444" stroke-width="0.6"/>
<text transform="translate(371.00,189.87) scale(0.7938888888888888,1)" text-anchor="end" font-size="8.2" fill="#3a3a3a" >5</text>
<path d="M371.9 230.30h1.5M514.8 230.30h-1.5" stroke="#444" stroke-width="0.6"/>
<text transform="translate(371.00,232.83) scale(0.7938888888888888,1)" text-anchor="end" font-size="8.2" fill="#3a3a3a" >0</text>
<path d="M371.9 272.80h1.5M514.8 272.80h-1.5" stroke="#444" stroke-width="0.6"/>
<text transform="translate(371.00,275.79) scale(0.7938888888888888,1)" text-anchor="end" font-size="8.2" fill="#3a3a3a" >-5</text>
<path d="M371.9 315.30h1.5M514.8 315.30h-1.5" stroke="#444" stroke-width="0.6"/>
<text transform="translate(371.00,318.75) scale(0.7938888888888888,1)" text-anchor="end" font-size="8.2" fill="#3a3a3a" >-10</text>
<text x="443.55" y="337.20" text-anchor="middle" font-size="8.2" fill="#3a3a3a" textLength="23.6" lengthAdjust="spacingAndGlyphs">Weights</text>
<text transform="translate(358.70,250.60) rotate(-90) scale(1,0.7938888888888888)" text-anchor="middle" font-size="8.2" fill="#3a3a3a" >Numerical values</text>
<rect x="477.5" y="276.7" width="35.30" height="36.30" fill="#fff" stroke="#333" stroke-width="0.7"/>
<rect x="480.08" y="279.00" width="24.1" height="8.40" rx="0.9" fill="#000000" stroke="#111" stroke-width="0.9"/>
<text transform="translate(508.15,285.20) scale(0.8931249999999998,1)" text-anchor="middle" font-size="5.9" fill="#777" font-style="italic">ϕ</text>
<rect x="480.08" y="290.45" width="24.1" height="8.40" rx="0.9" fill="#FFD814" stroke="#111" stroke-width="0.9"/>
<text transform="translate(508.15,296.65) scale(0.8931249999999998,1)" text-anchor="middle" font-size="5.9" fill="#777" font-style="italic">η</text>
<rect x="480.08" y="301.90" width="24.1" height="8.40" rx="0.9" fill="#A5360E" stroke="#111" stroke-width="0.9"/>
<text transform="translate(508.15,308.10) scale(0.8931249999999998,1)" text-anchor="middle" font-size="5.9" fill="#777" font-style="italic">μ</text>
<text x="440.80" y="352.00" text-anchor="middle" font-size="10.5" font-family="'Liberation Serif',serif" font-weight="normal" fill="#111" stroke="#111" stroke-width="0.12">f)</text></g>
</g>
</svg>
</body></html>
